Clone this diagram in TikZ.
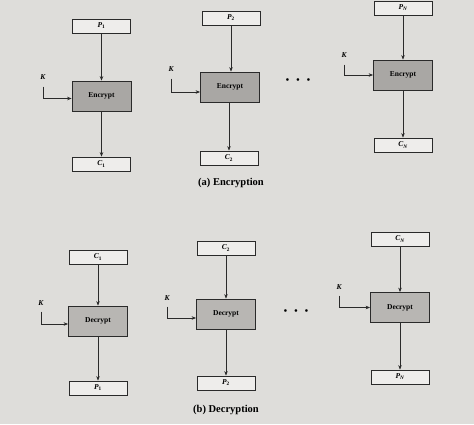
\documentclass[tikz,border=0pt]{standalone}
\usepackage{fontspec}
\setmainfont{Liberation Serif}
\usetikzlibrary{arrows.meta}
\definecolor{page}{HTML}{DEDDDA}
\definecolor{boxw}{HTML}{EEEDEB}
\definecolor{encf}{HTML}{A9A7A4}
\definecolor{decf}{HTML}{B8B6B3}
\definecolor{ink}{HTML}{2A2A2A}
\newcommand{\sbu}[1]{\textsubscript{\upshape #1}}
\newcommand{\sbi}[1]{\textsubscript{#1}}
\tikzset{
  blk/.style={draw=ink, line width=0.8pt, fill=boxw, minimum width=58pt, minimum height=14pt, inner sep=0pt, font=\fontsize{7.5}{8}\selectfont\bfseries\itshape},
  cip/.style={draw=ink, line width=0.8pt, fill=encf, minimum width=59pt, minimum height=30pt, inner sep=0pt, font=\fontsize{7.5}{8}\selectfont\bfseries},
  dcip/.style={cip, fill=decf},
  keyl/.style={inner sep=1pt, font=\fontsize{7.5}{8}\selectfont\bfseries\itshape},
  conn/.style={draw=ink, line width=0.6pt, -{Stealth[length=4.5pt,width=3.5pt]}},
  capt/.style={font=\fontsize{10.5}{12}\selectfont\bfseries},
  dots/.style={font=\fontsize{6}{6}\selectfont, inner sep=0pt}
}
\begin{document}
\begin{tikzpicture}[x=1pt,y=-1pt]
\fill[page] (0,0) rectangle (474,424);
\useasboundingbox (0,0) rectangle (474,424);
% ---------- Encryption ----------
\node[blk] (p1) at (101.5,26) {P\sbu{1}};
\node[cip] (e1) at (101.5,96) {Encrypt};
\node[blk] (c1) at (101.5,164) {C\sbu{1}};
\node[keyl] (k1) at (43,77) {K};
\draw[conn] (p1) -- (e1);
\draw[conn] (e1) -- (c1);
\draw[conn] (k1.south) ++(0,6) |- ([yshift=-2.5pt]e1.west);

\node[blk] (p2) at (231,18) {P\sbu{2}};
\node[cip] (e2) at (230,87) {Encrypt};
\node[blk] (c2) at (229,158) {C\sbu{2}};
\node[keyl] (k2) at (171,69) {K};
\draw[conn] (p2.south) -- (e2.north -| p2.south);
\draw[conn] (e2.south -| c2.north) -- (c2.north);
\draw[conn] (k2.south) ++(0,6) |- ([yshift=-5pt]e2.west);

\node[dots] (d1) at (298,80) {$\bullet\hspace{5pt}\bullet\hspace{5pt}\bullet$};

\node[blk] (pn) at (403,8) {P\sbi{N}};
\node[cip] (en) at (403,75) {Encrypt};
\node[blk] (cn) at (403,145) {C\sbi{N}};
\node[keyl] (kn) at (344,55) {K};
\draw[conn] (pn) -- (en);
\draw[conn] (en) -- (cn);
\draw[conn] (kn.south) ++(0,6) |- ([yshift=0pt]en.west);

\node[capt] (ca) at (231,183) {(a) Encryption};

% ---------- Decryption ----------
\node[blk] (dc1) at (98,257) {C\sbu{1}};
\node[dcip] (d1b) at (98,321) {Decrypt};
\node[blk] (dp1) at (98,388) {P\sbu{1}};
\node[keyl] (dk1) at (41,303) {K};
\draw[conn] (dc1) -- (d1b);
\draw[conn] (d1b) -- (dp1);
\draw[conn] (dk1.south) ++(0,5) |- ([yshift=-3pt]d1b.west);

\node[blk] (dc2) at (226,248) {C\sbu{2}};
\node[dcip] (d2b) at (226,314) {Decrypt};
\node[blk] (dp2) at (226,383) {P\sbu{2}};
\node[keyl] (dk2) at (167,298) {K};
\draw[conn] (dc2) -- (d2b);
\draw[conn] (d2b) -- (dp2);
\draw[conn] (dk2.south) ++(0,5) |- ([yshift=-4pt]d2b.west);

\node[dots] (d2) at (296,311) {$\bullet\hspace{5pt}\bullet\hspace{5pt}\bullet$};

\node[blk] (dcn) at (400,239) {C\sbi{N}};
\node[dcip] (dnb) at (400,307.5) {Decrypt};
\node[blk] (dpn) at (400,377) {P\sbi{N}};
\node[keyl] (dkn) at (339,287) {K};
\draw[conn] (dcn) -- (dnb);
\draw[conn] (dnb) -- (dpn);
\draw[conn] (dkn.south) ++(0,5) |- ([yshift=0pt]dnb.west);

\node[capt] (cb) at (226,410) {(b) Decryption};
\end{tikzpicture}
\end{document}
